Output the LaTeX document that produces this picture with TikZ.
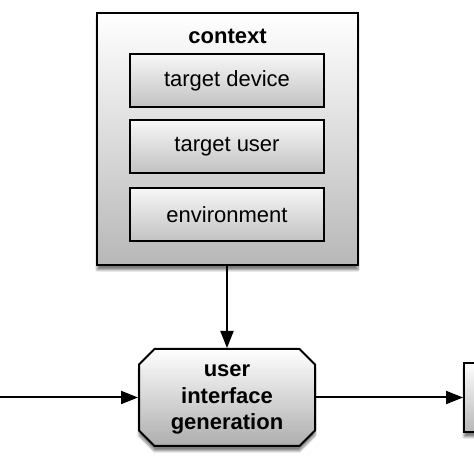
\documentclass[tikz,border=0pt]{standalone}
\usepackage{fontspec}
\setmainfont{Liberation Sans}
\usetikzlibrary{shapes.misc,shadows.blur,arrows.meta}
\begin{document}
\begin{tikzpicture}[x=1pt,y=1pt,
        every node/.style={font=\fontsize{22}{26}\selectfont},
        outerbox/.style={draw,line width=2pt,top color=white,bottom color=black!28,
            blur shadow={shadow xshift=0pt,shadow yshift=-5pt,shadow blur steps=8,shadow opacity=50}},
        itembox/.style={draw,line width=2pt,top color=black!3,bottom color=black!24,
            minimum width=194,minimum height=53,inner sep=0},
        genbox/.style={chamfered rectangle,chamfered rectangle xsep=12pt,draw,line width=2pt,
            top color=white,bottom color=black!32,align=center,inner sep=0,text depth=0pt,
            minimum width=176,minimum height=97,font=\bfseries\fontsize{22}{26.5}\selectfont,
            blur shadow={shadow xshift=0pt,shadow yshift=-5pt,shadow blur steps=8,shadow opacity=50}},
        flow/.style={line width=2pt,-{Triangle[length=17pt,width=13pt]}}]
        \useasboundingbox (0, 0) rectangle (474, 474);
        \node[outerbox,minimum width=261,minimum height=252,inner sep=0] (context) at (227.5, 335) {};
        \node[font=\bfseries\fontsize{22}{26}\selectfont] (title) at (227.5, 438) {context};
        \node[itembox] (device) at (227, 393.5) {target device};
        \node[itembox] (user) at (227, 327.5) {target user};
        \node[itembox] (env) at (227, 259.5) {environment};
        \node[genbox] (gen) at (227, 76.5) {user\\interface\\generation};
        \node[outerbox,minimum width=60,minimum height=69,inner sep=0] (result) at (494, 76.5) {};
        \coordinate (input) at (-5, 76.5);
        \draw[flow] (context.south -| gen.north) -- (gen.north);
        \draw[flow] (input) -- (gen.west);
        \draw[flow] (gen.east) -- (result.west);
    \end{tikzpicture}
\end{document}
